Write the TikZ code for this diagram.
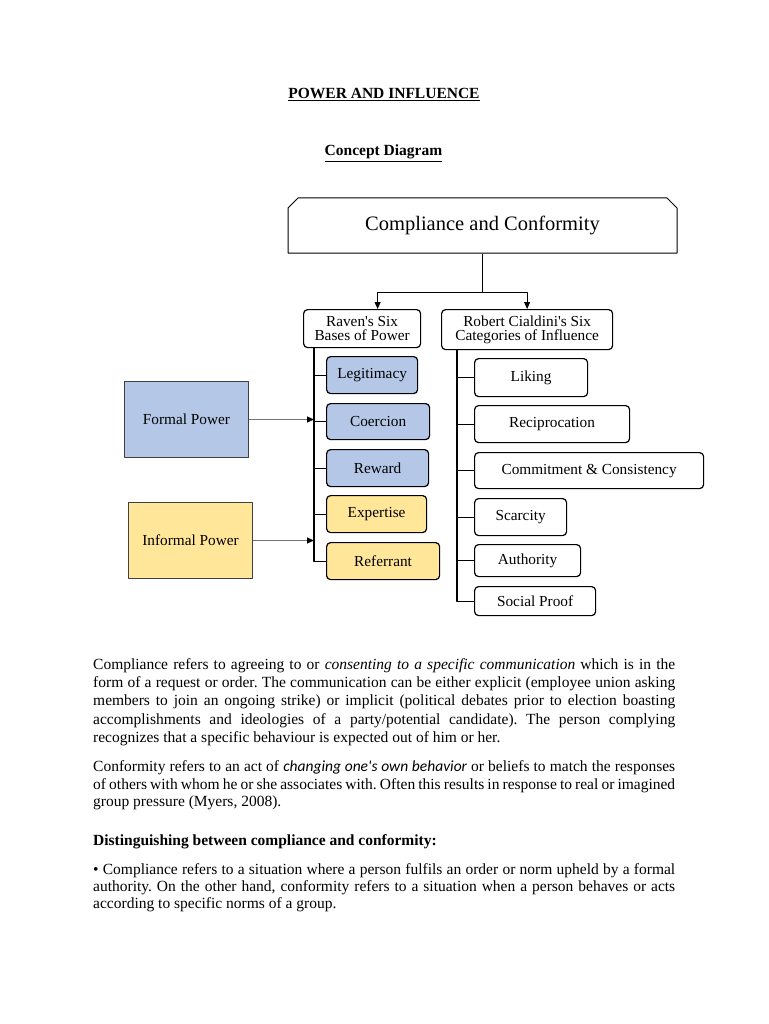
\documentclass[tikz,border=0pt]{standalone}
\usepackage{fontspec}
\setmainfont{Liberation Serif}
\newfontfamily\calibrifont{Carlito}
\usetikzlibrary{arrows.meta,shapes.misc}
\setlength{\parindent}{0pt}
\frenchspacing

\begin{document}
\begin{tikzpicture}[x=1pt,y=-1pt,>={Triangle[length=7pt,width=6pt,black]},line join=round]

% Colors
\definecolor{powerblue}{RGB}{180,199,231}
\definecolor{poweryellow}{RGB}{255,230,153}

% Styles
\tikzset{
  boxtext/.style={font=\fontsize{15.3}{14}\selectfont,align=center},
  rbox/.style={boxtext,draw,line width=1.2pt,rounded corners=4pt,inner sep=0pt,anchor=north west},
  bluebox/.style={rbox,fill=powerblue},
  yellowbox/.style={rbox,fill=poweryellow},
  sidebox/.style={boxtext,draw=black!75,line width=1pt,inner sep=0pt,anchor=north west},
  link/.style={line width=1.2pt},
  feed/.style={draw=black!55,line width=0.9pt,->},
  heading/.style={font=\bfseries\fontsize{15.5}{18}\selectfont,inner sep=0pt,anchor=base},
  bodytext/.style={anchor=base west,inner sep=0pt,text width=582pt,align=justify}
}

% Page
\fill[white] (0,0) rectangle (768,1024);
\useasboundingbox (0,0) rectangle (768,1024);

% Headings
\node[heading] (title) at (384,99) {\underline{POWER AND INFLUENCE}};
\node[heading] (concept) at (383.5,156) {\underline{Concept Diagram}};

% Top box
\node[draw,line width=1pt,chamfered rectangle,chamfered rectangle corners={north west,north east},
  chamfered rectangle xsep=5pt,chamfered rectangle ysep=5pt,minimum width=389pt,minimum height=55pt,
  inner sep=0pt,font=\fontsize{20.5}{24}\selectfont] (compconf) at (482.5,225.5)
  {\raisebox{2pt}{Compliance and Conformity}};

% Two families
\node[rbox,minimum width=117pt,minimum height=38pt] (raven) at (303,309) {Raven\textquotesingle s Six\\Bases of Power};
\node[rbox,minimum width=171pt,minimum height=40pt] (cialdini) at (441,309) {Robert Cialdini\textquotesingle s Six\\Categories of Influence};

% Raven's bases
\node[bluebox,minimum width=91pt,minimum height=37pt] (legit) at (326,356) {Legitimacy};
\node[bluebox,minimum width=103pt,minimum height=36pt] (coercion) at (326,403) {Coercion};
\node[bluebox,minimum width=102pt,minimum height=37pt] (reward) at (326,449) {Reward};
\node[yellowbox,minimum width=100pt,minimum height=37pt] (expertise) at (326,495) {Expertise};
\node[yellowbox,minimum width=113pt,minimum height=37pt] (referrant) at (326,542) {Referrant};

% Power sources
\node[sidebox,fill=powerblue,minimum width=124pt,minimum height=76pt] (formal) at (124,381) {Formal Power};
\node[sidebox,fill=poweryellow,minimum width=124pt,minimum height=76pt] (informal) at (128,502) {Informal Power};

% Cialdini's categories
\node[rbox,minimum width=113pt,minimum height=38pt] (liking) at (474,358) {Liking};
\node[rbox,minimum width=155pt,minimum height=37pt] (recip) at (474,405) {Reciprocation};
\node[rbox,minimum width=229pt,minimum height=36pt] (commit) at (474,452) {Commitment \& Consistency};
\node[rbox,minimum width=92pt,minimum height=37pt] (scarcity) at (474,498) {Scarcity};
\node[rbox,minimum width=106pt,minimum height=32pt] (authority) at (474,544) {Authority};
\node[rbox,minimum width=121pt,minimum height=29pt] (proof) at (474,586) {Social Proof};

% Split from top box
\coordinate (split) at (482.5,292);
\coordinate (raventop) at ([xshift=15.5pt]raven.north);
\draw[line width=0.9pt] (compconf.south) -- (split);
\draw[line width=0.9pt,->] (split) -| (raventop);
\draw[line width=0.9pt,->] (split) -| (cialdini.north);

% Raven trunk and branches
\coordinate (raventrunk) at ([xshift=11pt]raven.south west);
\draw[link] (raventrunk) |- (referrant.west);
\foreach \b in {legit,coercion,reward,expertise} {
  \draw[link] (raventrunk |- \b.west) -- (\b.west);
}
\draw[feed] (formal.east) -- (raventrunk |- formal.east);
\draw[feed] (informal.east) -- (raventrunk |- informal.east);

% Cialdini trunk and branches
\coordinate (cialtrunk) at ([xshift=16pt]cialdini.south west);
\draw[link] (cialtrunk) |- (proof.west);
\foreach \b in {liking,recip,commit,scarcity,authority} {
  \draw[link] (cialtrunk |- \b.west) -- (\b.west);
}

% Text below
\node[bodytext,font=\fontsize{15.5}{18.3}\selectfont] (compltext) at (93,669.3) {%
Compliance refers to agreeing to or \textit{consenting to a specific communication} which is in the\linebreak
form of a request or order. The communication can be either explicit (employee union asking\linebreak
members to join an ongoing strike) or implicit (political debates prior to election boasting\linebreak
accomplishments and ideologies of a party/potential candidate). The person complying\linebreak
recognizes that a specific behaviour is expected out of him or her.};

\node[bodytext,font=\fontsize{15.5}{17.5}\selectfont] (conftext) at (93,771.7) {%
Conformity refers to an act of {\calibrifont\itshape changing one's own behavior} or beliefs to match the responses\linebreak
of others with whom he or she associates with. Often this results in response to real or imagined\linebreak
group pressure (Myers, 2008).};

\node[heading,anchor=base west] (disthead) at (93,845) {Distinguishing between compliance and conformity:};

\node[bodytext,font=\fontsize{15.5}{17}\selectfont] (disttext) at (93,874.3) {%
• Compliance refers to a situation where a person fulfils an order or norm upheld by a formal\linebreak
authority. On the other hand, conformity refers to a situation when a person behaves or acts\linebreak
according to specific norms of a group.};

\end{tikzpicture}
\end{document}
